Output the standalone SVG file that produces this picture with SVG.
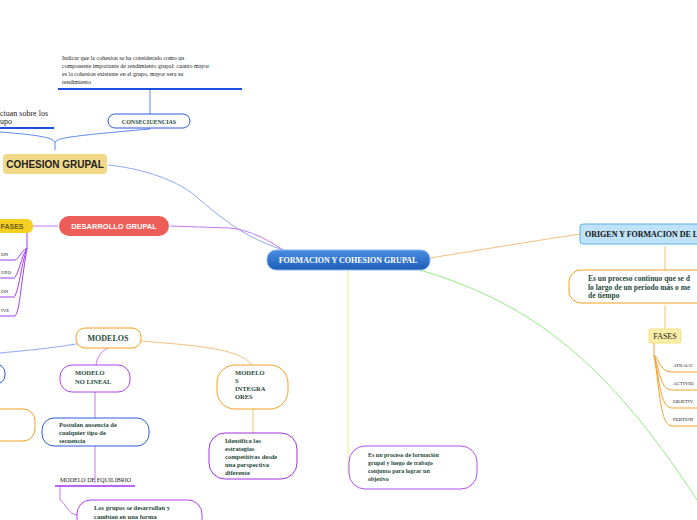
<svg xmlns="http://www.w3.org/2000/svg" width="697" height="520" viewBox="0 0 697 520">
<defs>
<linearGradient id="gb" x1="0" y1="0" x2="0" y2="1"><stop offset="0" stop-color="#4a8fe0"/><stop offset="1" stop-color="#1c5cb8"/></linearGradient>
</defs>
<style>
text{font-family:"Liberation Serif",serif;fill:#1f4a3a}
.s{font-size:6px;fill:#222}
.b{font-weight:bold;font-size:6.5px}
</style>
<rect width="697" height="520" fill="#fff"/>
<g id="connectors" fill="none">
<path d="M290,252 C250,240 230,225 200,200 C180,180 140,168 108,165" stroke="#8ea8f0"/>
<path d="M290,255 C270,240 250,230 230,228 L170,226" stroke="#c07af0"/>
<path d="M430,258 C480,250 540,240 580,234" stroke="#f5c080"/>
<path d="M348,270 L348,475" stroke="#e8f090"/>
<path d="M420,270 C520,300 600,350 697,500" stroke="#90ee80"/>
<path d="M55,150 L55,143 C55,138 70,136 150,129 L150,90 M55,143 C55,138 40,135 0,132" stroke="#5a8af0"/>
<path d="M2,226 L58,226" stroke="#c07af0"/>
<path d="M27,232 L27,248 C20,252 20,258 15,260 M27,248 C20,260 20,270 15,277 M27,248 C20,270 20,285 15,296 M27,248 C20,290 20,310 15,316" stroke="#a040f0"/>
<path d="M0,353 C30,350 60,348 108,338" stroke="#8ea8f0"/>
<path d="M108,348 C100,352 97,358 96,365" stroke="#c07af0"/>
<path d="M140,341 C190,345 240,348 252,365" stroke="#f5c080"/>
<path d="M95,392 L95,418 M95,446 L95,483" stroke="#c07af0"/>
<path d="M253,409 L253,433" stroke="#f5c080"/>
<path d="M60,487 L60,500 C65,502 68,515 78,515" stroke="#c07af0"/>
<path d="M665,246 L665,270 M665,305 L665,330" stroke="#f5c080"/>
<path d="M654,343 L654,355 C660,360 660,372 672,372 L697,372 M654,355 C660,370 660,390 672,390 L697,390 M654,355 C660,380 660,408 672,408 L697,408 M654,355 C660,390 660,426 672,426 L697,426" stroke="#f0a030"/>
</g>
<g id="fcg"><rect x="267" y="250" width="163" height="20" rx="9" fill="url(#gb)" stroke="#8ab8f0"/><text x="348" y="263" text-anchor="middle" style="fill:#fff;font-weight:bold;font-size:8px">FORMACION Y COHESION GRUPAL</text></g>
<g id="cohesion"><rect x="3" y="154" width="104" height="20" rx="4" fill="#f2d98a"/><text x="55" y="168" text-anchor="middle" style="font-family:'Liberation Sans',sans-serif;font-weight:bold;font-size:10px;fill:#222">COHESION GRUPAL</text></g>
<g id="consecuencias"><rect x="108" y="114" width="82" height="14" rx="7" fill="#fff" stroke="#2a5ae0"/><text x="149" y="124" text-anchor="middle" class="b" style="font-size:6px">CONSECIUENCIAS</text></g>
<g id="indicar"><text class="s"><tspan x="62" y="60">Indicar que la cohesion se ha considerado como un</tspan><tspan x="62" y="68">componente importante de rendimiento grupal: cuanto mayor</tspan><tspan x="62" y="76">es la cohesion existente en el grupo, mayor sera su</tspan><tspan x="62" y="84">rendimiento</tspan></text><line x1="58" y1="89" x2="242" y2="89" stroke="#1e50e0" stroke-width="2"/></g>
<g id="actuan"><text style="font-size:8px;fill:#222"><tspan x="0" y="116">ctuan sobre los</tspan><tspan x="0" y="124">upo</tspan></text><line x1="0" y1="128" x2="54" y2="128" stroke="#1e50e0" stroke-width="2"/></g>
<g id="desarrollo"><rect x="59" y="216" width="110" height="20" rx="10" fill="#ee5e58"/><text x="114" y="229" text-anchor="middle" style="font-family:'Liberation Sans',sans-serif;font-weight:bold;font-size:7.5px;fill:#fff">DESARROLLO GRUPAL</text></g>
<g id="fases1"><rect x="-10" y="219" width="43" height="14" rx="6" fill="#f5d020"/><text x="12" y="229" text-anchor="middle" style="font-family:'Liberation Sans',sans-serif;font-weight:bold;font-size:7px;fill:#6a5a10">FASES</text></g>
<g id="f1a"><text x="1" y="256" class="s" style="font-size:5px">ON</text><line x1="0" y1="260" x2="15" y2="260" stroke="#a040f0"/></g>
<g id="f1b"><text x="1" y="274" class="s" style="font-size:5px">UPO</text><line x1="0" y1="278" x2="15" y2="278" stroke="#a040f0"/></g>
<g id="f1c"><text x="1" y="293" class="s" style="font-size:5px">ON</text><line x1="0" y1="297" x2="15" y2="297" stroke="#a040f0"/></g>
<g id="f1d"><text x="1" y="312" class="s" style="font-size:5px">IVE</text><line x1="0" y1="316" x2="15" y2="316" stroke="#a040f0"/></g>
<g id="modelos"><rect x="76" y="328" width="65" height="20" rx="9" fill="#fff" stroke="#f5a020"/><text x="108" y="341" text-anchor="middle" style="font-weight:bold;font-size:8px">MODELOS</text></g>
<g id="mleft"><rect x="-20" y="364" width="25" height="20" rx="9" fill="#fff" stroke="#2a5ae0"/></g>
<g id="mleft2"><rect x="-20" y="409" width="55" height="32" rx="12" fill="#fff" stroke="#f5a020"/></g>
<g id="noLineal"><rect x="60" y="365" width="70" height="27" rx="12" fill="#fff" stroke="#b040f0"/><text class="b"><tspan x="75" y="375">MODELO</tspan><tspan x="75" y="384">NO LINEAL</tspan></text></g>
<g id="integra"><rect x="217" y="365" width="71" height="44" rx="18" fill="#fff" stroke="#f5a020"/><text class="b"><tspan x="235" y="375">MODELO</tspan><tspan x="235" y="383">S</tspan><tspan x="235" y="391">INTEGRA</tspan><tspan x="235" y="399">ORES</tspan></text></g>
<g id="postulan"><rect x="42" y="418" width="107" height="28" rx="12" fill="#fff" stroke="#2a5ae0"/><text class="b"><tspan x="59" y="427">Postulan ausencia de</tspan><tspan x="59" y="435">cualquier tipo de</tspan><tspan x="59" y="443">secuencia</tspan></text></g>
<g id="identifica"><rect x="209" y="433" width="88" height="46" rx="16" fill="#fff" stroke="#a030e0"/><text class="b"><tspan x="225" y="443">Identifica las</tspan><tspan x="225" y="451">estrategias</tspan><tspan x="225" y="459">competitivas desde</tspan><tspan x="225" y="467">una perspectiva</tspan><tspan x="225" y="475">diferente</tspan></text></g>
<g id="equilibrio"><text x="60" y="482" class="s">MODELO DE EQUILIBRIO</text><line x1="55" y1="486" x2="135" y2="486" stroke="#a030f0" stroke-width="1.5"/></g>
<g id="grupos"><rect x="77" y="500" width="125" height="40" rx="14" fill="#fff" stroke="#b040f0"/><text class="b"><tspan x="94" y="510">Los grupos se desarrollan y</tspan><tspan x="94" y="519">cambian en una forma</tspan></text></g>
<g id="proceso"><rect x="349" y="446" width="128" height="43" rx="16" fill="#fff" stroke="#b050f0"/><text class="b" style="font-size:6px"><tspan x="368" y="457">Es un proceso de formación</tspan><tspan x="368" y="465">grupal y luego de trabajo</tspan><tspan x="368" y="473">conjunto para lograr un</tspan><tspan x="368" y="481">objetivo</tspan></text></g>
<g id="origen"><rect x="580" y="224" width="130" height="20" rx="3" fill="#bfe2f8" stroke="#5ab0e8"/><text x="585" y="237" style="font-weight:bold;font-size:8px;fill:#111">ORIGEN Y FORMACION DE L</text></g>
<g id="continuo"><rect x="569" y="270" width="140" height="33" rx="12" fill="#fff" stroke="#f5a020"/><text class="b" style="font-size:7.5px"><tspan x="588" y="281">Es un proceso continuo que se d</tspan><tspan x="588" y="290">lo largo de un periodo más o me</tspan><tspan x="588" y="298">de tiempo</tspan></text></g>
<g id="fases2"><rect x="649" y="329" width="32" height="14" rx="2" fill="#fbeea8" stroke="#f5e080"/><text x="665" y="339" text-anchor="middle" style="font-size:8px;fill:#222">FASES</text></g>
<g id="f2a"><text x="673" y="367" class="s" style="font-size:5px">ATRACC</text></g>
<g id="f2b"><text x="673" y="385" class="s" style="font-size:5px">ACTIVID</text></g>
<g id="f2c"><text x="673" y="403" class="s" style="font-size:5px">OBJETIV</text></g>
<g id="f2d"><text x="673" y="421" class="s" style="font-size:5px">PERTENI</text></g>
</svg>
